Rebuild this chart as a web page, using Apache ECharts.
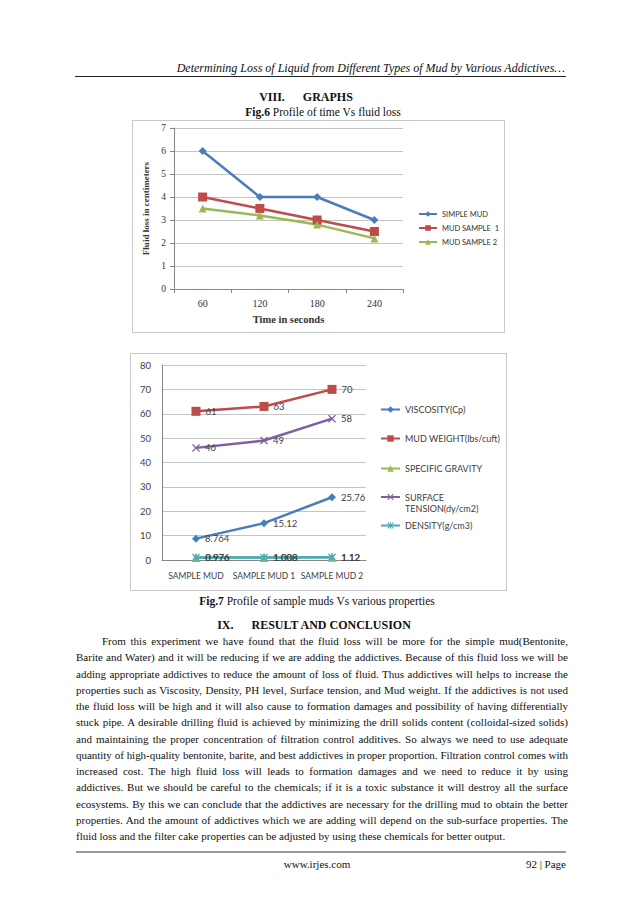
<!DOCTYPE html>
<html><head><meta charset="utf-8">
<script src="https://cdn.jsdelivr.net/npm/echarts@6/dist/echarts.min.js"></script>
<style>
html,body{margin:0;padding:0;background:#fff;}
body{width:638px;height:902px;position:relative;overflow:hidden;font-family:"Liberation Serif","Times New Roman",serif;color:#111;}
.abs{position:absolute;}
.ctr{left:0;width:636px;text-align:center;white-space:pre;}
.box{position:absolute;border:1px solid #c9c9c9;box-sizing:border-box;background:#fff;}
.pl{position:absolute;left:76px;width:492px;font-size:11px;white-space:nowrap;text-align:justify;text-align-last:justify;line-height:12px;}
</style></head>
<body>
<div class="abs" style="left:75px;width:490px;top:61px;text-align:right;font-style:italic;font-size:12px;line-height:14px;">Determining Loss of Liquid from Different Types of Mud by Various Addictives…</div>
<div class="abs" style="left:75px;width:491px;top:76px;height:1px;background:#222;"></div>
<div class="abs ctr" style="top:90px;font-size:12px;font-weight:bold;line-height:14px;left:0;width:612px;">VIII.      GRAPHS</div>
<div class="abs ctr" style="top:105px;font-size:11.5px;line-height:14px;left:0;width:646px;"><b>Fig.6</b> Profile of time Vs fluid loss</div>
<div id="c1" class="box" style="left:132px;top:120px;width:373px;height:213px;"></div>
<div id="c2" class="box" style="left:130px;top:353px;width:377px;height:238px;"></div>
<div class="abs ctr" style="top:594px;font-size:11.5px;line-height:14px;left:0;width:634px;"><b>Fig.7</b> Profile of sample muds Vs various properties</div>
<div class="abs ctr" style="top:618px;font-size:12px;font-weight:bold;line-height:14px;left:0;width:628px;">IX.      RESULT AND CONCLUSION</div>
<div id="para"></div>
<div class="abs" style="left:76px;width:490px;top:851px;height:2px;background:#9a9a9a;"></div>
<div class="abs" style="left:0;width:634px;top:858px;text-align:center;font-size:11px;line-height:13px;">www.irjes.com</div>
<div class="abs" style="left:76px;width:490px;top:858px;text-align:right;font-size:11px;line-height:13px;">92 | Page</div>
<script>
// ---- Fig.6 data ----
var times = ['60', '120', '180', '240'];
var simpleMud = [6, 4, 4, 3];
var mudSample1 = [4, 3.5, 3, 2.5];
var mudSample2 = [3.5, 3.2, 2.8, 2.2];
var fig6Names = ['SIMPLE MUD', 'MUD SAMPLE  1', 'MUD SAMPLE 2'];
var fig6YTicks = [0, 7, 1];

// ---- Fig.7 data ----
var samples = ['SAMPLE MUD', 'SAMPLE MUD 1', 'SAMPLE MUD 2'];
var viscosity = [8.764, 15.12, 25.76];
var mudWeight = [61, 63, 70];
var specificGravity = [0.976, 1.008, 1.12];
var surfaceTension = [46, 49, 58];
var density = [0.976, 1.008, 1.12];
var fig7Names = ['VISCOSITY(Cp)', 'MUD WEIGHT(lbs/cuft)', 'SPECIFIC GRAVITY', 'SURFACE TENSION(dy/cm2)', 'DENSITY(g/cm3)'];
var fig7YTicks = [0, 80, 10];

// ---- paragraph text ----
var paraLines = [
 'From this experiment we have found that the fluid loss will be more for the simple mud(Bentonite,',
 'Barite and Water) and it will be reducing if we are adding the addictives. Because of this fluid loss we will be',
 'adding appropriate addictives to reduce the amount of loss of fluid. Thus addictives will helps to increase the',
 'properties such as Viscosity, Density, PH level, Surface tension, and Mud weight. If the addictives is not used',
 'the fluid loss will be high and it will also cause to formation damages and possibility of having differentially',
 'stuck pipe. A desirable drilling fluid is achieved by minimizing the drill solids content (colloidal-sized solids)',
 'and maintaining the proper concentration of filtration control additives. So always we need to use adequate',
 'quantity of high-quality bentonite, barite, and best addictives in proper proportion. Filtration control comes with',
 'increased cost. The high fluid loss will leads to formation damages and we need to reduce it by using',
 'addictives. But we should be careful to the chemicals; if it is a toxic substance it will destroy all the surface',
 'ecosystems. By this we can conclude that the addictives are necessary for the drilling mud to obtain the better',
 'properties. And the amount of addictives which we are adding will depend on the sub-surface properties. The',
 'fluid loss and the filter cake properties can be adjusted by using these chemicals for better output.'
];
(function(){
  var p = document.getElementById('para');
  var cv = document.createElement('canvas').getContext('2d');
  cv.font = '11px "Liberation Serif"';
  var html = '';
  for (var i = 0; i < paraLines.length; i++) {
    var top = 635 + i * 16.25;
    var avail = (i === 0) ? 466 : 492;
    var extra = '';
    if (i === 0) extra = 'left:102px;width:466px;';
    if (i === paraLines.length - 1) extra += 'text-align:left;text-align-last:left;';
    var w = cv.measureText(paraLines[i]).width;
    if (w > avail - 2) {
      var ls = (avail - 2 - w) / paraLines[i].length;
      extra += 'letter-spacing:' + ls.toFixed(3) + 'px;';
    }
    html += '<div class="pl" style="top:' + top + 'px;' + extra + '">' + paraLines[i] + '</div>';
  }
  p.innerHTML = html;
})();

var XPATH = 'path://M0,1.2L1.2,0L5,3.8L8.8,0L10,1.2L6.2,5L10,8.8L8.8,10L5,6.2L1.2,10L0,8.8L3.8,5Z';
var STARPATH = 'path://M0,1.2L1.2,0L5,3.8L8.8,0L10,1.2L6.2,5L10,8.8L8.8,10L5,6.2L1.2,10L0,8.8L3.8,5Z M4.4,0L5.6,0L5.6,10L4.4,10Z';

var axisGray = '#868686';
var gridGray = '#c4c4c4';

var c1 = echarts.init(document.getElementById('c1'), null, {renderer: 'svg'});
function s1(name, data, color, sym, size) {
  return {type: 'line', name: name, data: data, symbol: sym, symbolSize: size,
    lineStyle: {color: color, width: 2.5}, itemStyle: {color: color}};
}
c1.setOption({
  animation: false,
  grid: {left: 41, top: 7, width: 229, height: 161},
  xAxis: {type: 'category', data: times, boundaryGap: true,
    axisLine: {lineStyle: {color: axisGray}}, axisTick: {show: true, length: 4, lineStyle: {color: axisGray}},
    axisLabel: {color: '#333', fontFamily: 'Liberation Serif', fontSize: 10, margin: 9},
    name: 'Time in seconds', nameLocation: 'middle', nameGap: 25,
    nameTextStyle: {color: '#333', fontFamily: 'Liberation Serif', fontWeight: 'bold', fontSize: 10.5}},
  yAxis: {type: 'value', min: fig6YTicks[0], max: fig6YTicks[1], interval: fig6YTicks[2],
    axisLine: {show: true, lineStyle: {color: axisGray}}, axisTick: {show: true, length: 4, lineStyle: {color: axisGray}},
    splitLine: {lineStyle: {color: gridGray}},
    axisLabel: {color: '#333', fontFamily: 'Liberation Serif', fontSize: 9.5, margin: 8},
    name: 'Fluid loss in centimeters', nameLocation: 'middle', nameGap: 20,
    nameTextStyle: {color: '#333', fontFamily: 'Liberation Serif', fontWeight: 'bold', fontSize: 9}},
  legend: {orient: 'vertical', left: 285, top: 89, padding: 0, itemWidth: 18, itemHeight: 7, itemGap: 6, itemStyle: {borderWidth: 0},
    textStyle: {color: '#333', fontFamily: 'Lato', fontSize: 7.5}, data: fig6Names},
  series: [
    s1(fig6Names[0], simpleMud, '#4A7EBB', 'diamond', 8),
    s1(fig6Names[1], mudSample1, '#BE4B48', 'rect', 9),
    s1(fig6Names[2], mudSample2, '#98B954', 'triangle', 8)
  ]
});

var c2 = echarts.init(document.getElementById('c2'), null, {renderer: 'svg'});
function s2(name, data, color, sym, size) {
  return {type: 'line', name: name, data: data, symbol: sym, symbolSize: size,
    lineStyle: {color: color, width: 2.5}, itemStyle: {color: color},
    label: {show: true, position: 'right', distance: 5, color: '#404040', fontFamily: 'Lato', fontSize: 9.5}};
}
var legTops = [50, 79, 109, 126.5, 166];
var legends = [];
for (var i = 0; i < fig7Names.length; i++) {
  var nm = fig7Names[i];
  legends.push({orient: 'vertical', left: 249, top: legTops[i], padding: 0, itemWidth: 19, itemHeight: 8,
    data: [nm],
    formatter: function (n) { return n === 'SURFACE TENSION(dy/cm2)' ? '\u00a0\nSURFACE\nTENSION(dy/cm2)' : n; },
    textStyle: {color: '#404040', fontFamily: 'Lato', fontSize: 9, lineHeight: 11}});
}
c2.setOption({
  animation: false,
  grid: {left: 31, top: 11, width: 204, height: 195},
  xAxis: {type: 'category', data: samples, boundaryGap: true,
    axisLine: {lineStyle: {color: axisGray}}, axisTick: {show: false},
    axisLabel: {color: '#404040', fontFamily: 'Lato', fontSize: 8.5, margin: 11, interval: 0}},
  yAxis: {type: 'value', min: fig7YTicks[0], max: fig7YTicks[1], interval: fig7YTicks[2],
    axisLine: {show: true, lineStyle: {color: axisGray}}, axisTick: {show: false},
    splitLine: {lineStyle: {color: gridGray}},
    axisLabel: {color: '#404040', fontFamily: 'Lato', fontSize: 9.5, margin: 11}},
  legend: legends,
  series: [
    s2(fig7Names[0], viscosity, '#4A7EBB', 'diamond', 8),
    s2(fig7Names[1], mudWeight, '#BE4B48', 'rect', 9),
    s2(fig7Names[2], specificGravity, '#98B954', 'triangle', 9),
    s2(fig7Names[3], surfaceTension, '#7D60A0', XPATH, 8),
    s2(fig7Names[4], density, '#46AAC5', STARPATH, 8)
  ]
});
</script>
</body></html>
